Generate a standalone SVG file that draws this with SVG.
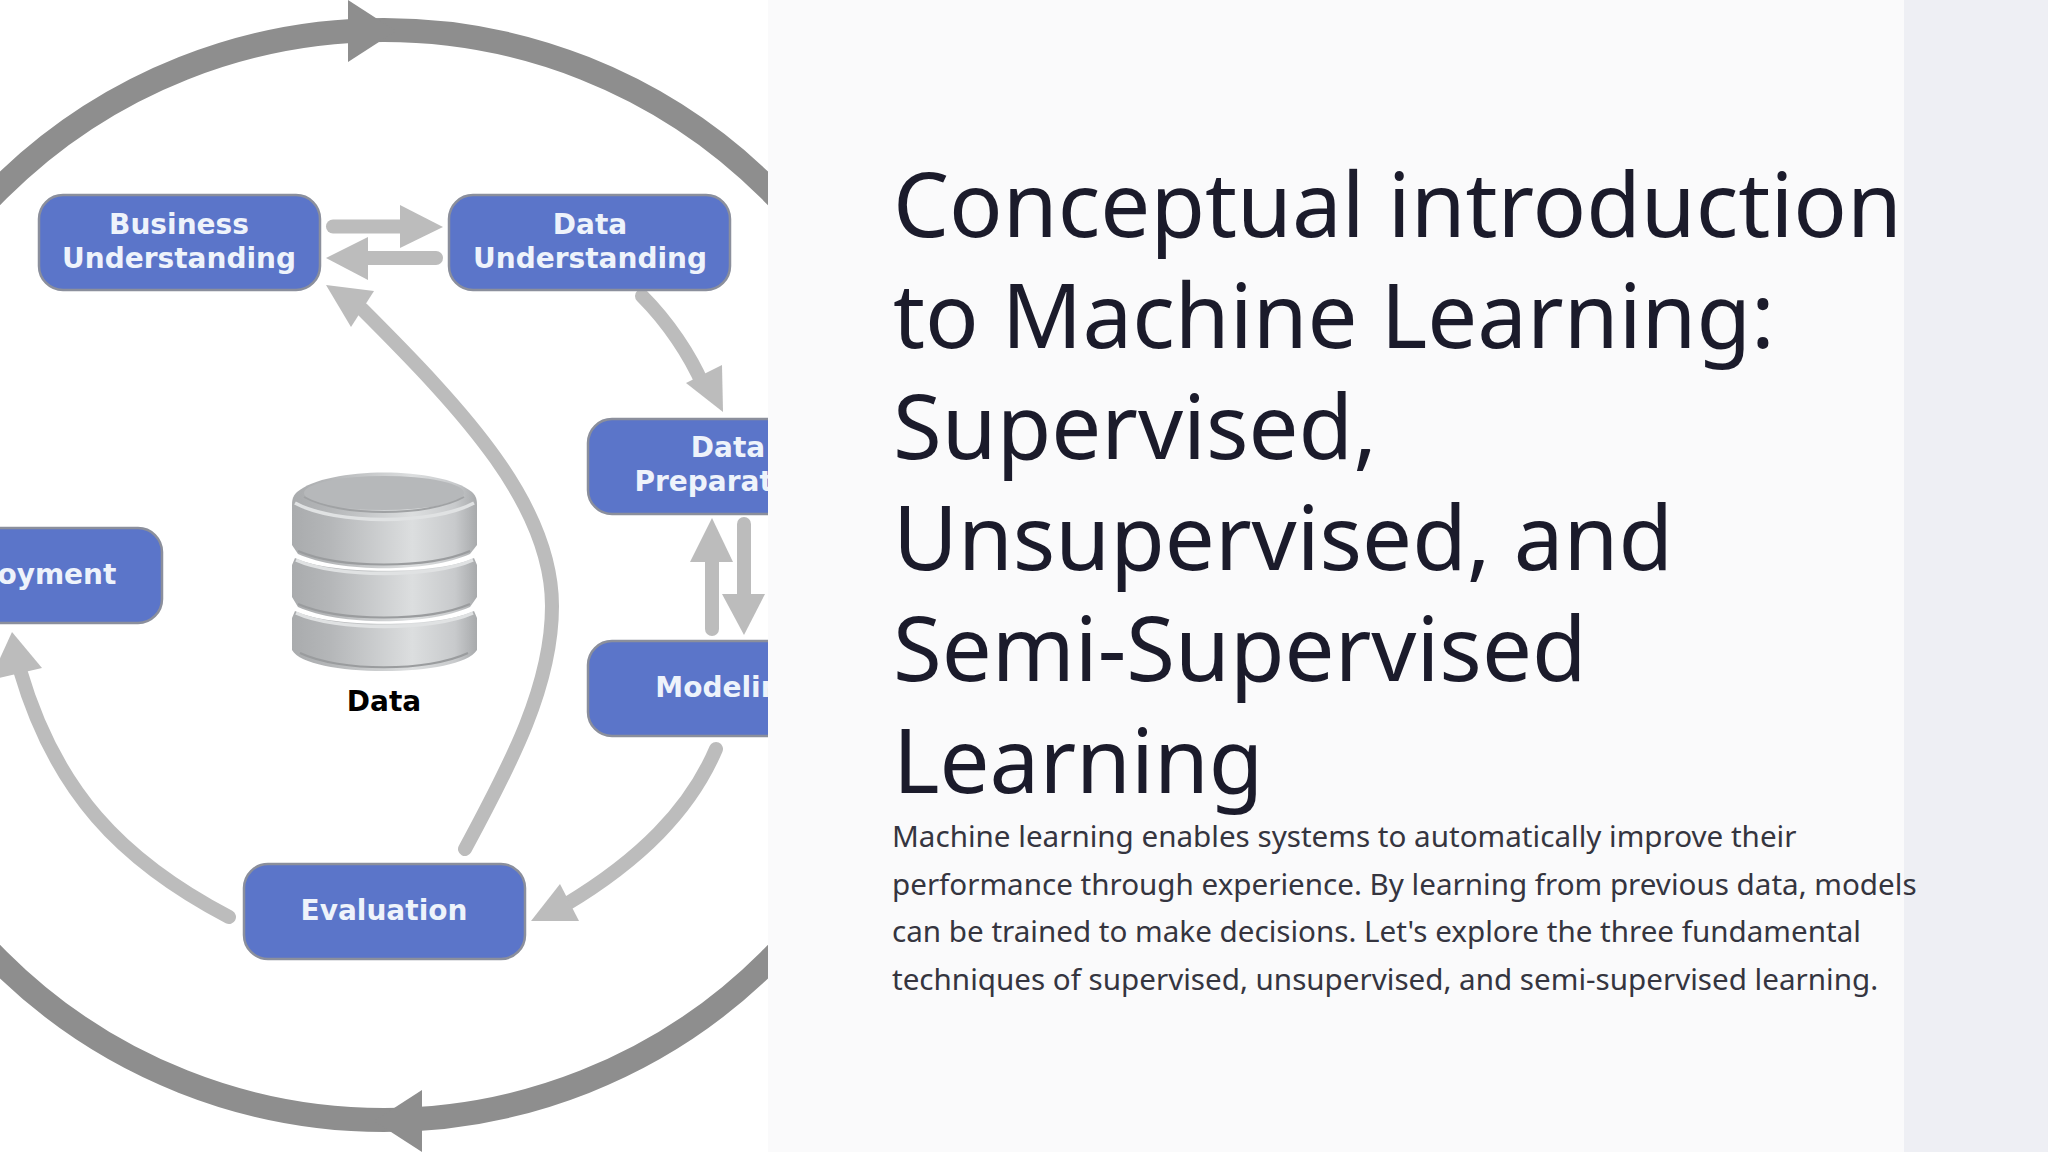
<svg xmlns="http://www.w3.org/2000/svg" width="2048" height="1152" viewBox="0 0 2048 1152">
<style>
.box{fill:#5b75c9;stroke:#8b8f9c;stroke-width:2.500}
.lbl{font:bold 28px "DejaVu Sans",sans-serif;fill:#eef3fb;text-anchor:middle}
.outer{fill:none;stroke:#8e8e8e;stroke-width:24}
.oh{fill:#8e8e8e}
.sh{fill:none;stroke:#bcbcbc;stroke-width:14;stroke-linecap:round}
.hd{fill:#bcbcbc}
.title{font:88.800px "Noto Sans",sans-serif;fill:#1b1b2b}
.body{font:29.600px "Noto Sans",sans-serif;fill:#35353f}
.ring{fill:none;stroke:#e0e2e3;stroke-width:3.500}
.seam{fill:none;stroke:#9a9c9e;stroke-width:2}
.tier{fill:url(#cyl)}
</style>
<defs>
<clipPath id="imgclip"><rect x="0" y="0" width="768" height="1152"/></clipPath>
<filter id="soft" x="0" y="0" width="1" height="1"><feGaussianBlur stdDeviation="0.600"/></filter>
<linearGradient id="cyl" x1="0" x2="1" y1="0" y2="0">
<stop offset="0" stop-color="#a9abad"/><stop offset=".2" stop-color="#b4b6b8"/><stop offset=".65" stop-color="#dcdedf"/><stop offset=".88" stop-color="#c8cacc"/><stop offset="1" stop-color="#a8aaac"/>
</linearGradient>
</defs>
<rect width="2048" height="1152" fill="#ffffff"/>
<rect x="768" y="0" width="1136" height="1152" fill="#fafafb"/>
<rect x="1904" y="0" width="144" height="1152" fill="#eeeff4"/>
<g clip-path="url(#imgclip)">
<g id="connectors">
<circle class="outer" cx="384" cy="575" r="545"/>
<path class="oh" d="M348 0L396 31L348 62Z"/>
<path class="oh" d="M422 1090L374 1121L422 1152Z"/>
<path class="sh" d="M333 226.500H402"/><path class="hd" d="M400 205L443 227L400 248Z"/>
<path class="sh" d="M436 258H366"/><path class="hd" d="M368 237L326 258L368 280Z"/>
<path class="sh" d="M642 296C668 322 690 355 703 385"/><path class="hd" d="M722 365L723 412L686 383Z"/>
<path class="sh" d="M465 849C512 762 552 685 552 606C552 505 465 412 362 309"/><path class="hd" d="M326 285L374 291L351 327Z"/>
<path class="sh" d="M712 629V560"/><path class="hd" d="M712 518L733 562H690Z"/>
<path class="sh" d="M744 524V596"/><path class="hd" d="M722 594H765L744 635Z"/>
<path class="sh" d="M716 749C690 810 640 860 565 905"/><path class="hd" d="M531 921L560 884L579 921Z"/>
<path class="sh" d="M229 917C120 860 55 790 20 670"/><path class="hd" d="M12 632L42 668L-10 680Z"/>
</g>
<g id="node-business"><rect class="box" x="39" y="195" width="281" height="95" rx="24"/><text class="lbl" x="179" y="234">Business</text><text class="lbl" x="179" y="268">Understanding</text></g>
<g id="node-data-understanding"><rect class="box" x="449" y="195" width="281" height="95" rx="24"/><text class="lbl" x="590" y="234">Data</text><text class="lbl" x="590" y="268">Understanding</text></g>
<g id="node-data-preparation"><rect class="box" x="588" y="419" width="281" height="95" rx="24"/><text class="lbl" x="728" y="457">Data</text><text class="lbl" x="728" y="491">Preparation</text></g>
<g id="node-modeling"><rect class="box" x="588" y="641" width="281" height="95" rx="24"/><text class="lbl" x="728" y="697">Modeling</text></g>
<g id="node-deployment"><rect class="box" x="-119" y="528" width="281" height="95" rx="24"/><text class="lbl" x="21" y="584">Deployment</text></g>
<g id="node-evaluation"><rect class="box" x="244" y="864" width="281" height="95" rx="24"/><text class="lbl" x="384" y="920">Evaluation</text></g>
<g id="node-data" filter="url(#soft)">
<path class="tier" d="M295 611L292 618V650C300 664 340 671 384 671C428 671 468 664 477 650V618L474 611C440 628 328 628 295 611Z"/>
<path class="seam" d="M300 653C340 672 428 672 468 653"/>
<path class="tier" d="M295 558L292 565V597L298 607C340 626 428 626 470 607L477 597V565L474 558C440 575 328 575 295 558Z"/>
<path class="seam" d="M298 604C340 622 428 622 470 604"/>
<path class="ring" d="M296 613C335 631 433 631 473 613"/>
<path class="tier" d="M297 492C292 497 292 500 292 508V545L298 554C340 573 428 573 470 554L477 545V508C477 500 477 497 472 492C440 466 328 466 297 492Z"/>
<path class="seam" d="M298 551C340 569 428 569 470 551"/>
<path class="ring" d="M296 560C335 578 433 578 473 560"/>
<path class="ring" d="M295 503C335 525 433 525 474 503"/>
<ellipse cx="384" cy="493" rx="80" ry="17" fill="#b6b8ba"/>
<path d="M304 497C340 517 428 517 464 497" fill="none" stroke="#a0a2a4" stroke-width="2"/>
</g>
<text id="data-label" x="384" y="711" style="font:bold 28px 'DejaVu Sans',sans-serif;fill:#000;text-anchor:middle">Data</text>
</g>
<g id="title">
<text class="title" x="893" y="237">Conceptual introduction</text>
<text class="title" x="893" y="348">to Machine Learning:</text>
<text class="title" x="893" y="459">Supervised,</text>
<text class="title" x="893" y="570">Unsupervised, and</text>
<text class="title" x="893" y="681">Semi-Supervised</text>
<text class="title" x="893" y="793">Learning</text>
</g>
<g id="body">
<text class="body" x="892" y="847">Machine learning enables systems to automatically improve their</text>
<text class="body" x="892" y="895">performance through experience. By learning from previous data, models</text>
<text class="body" x="892" y="942">can be trained to make decisions. Let's explore the three fundamental</text>
<text class="body" x="892" y="990">techniques of supervised, unsupervised, and semi-supervised learning.</text>
</g>
</svg>
